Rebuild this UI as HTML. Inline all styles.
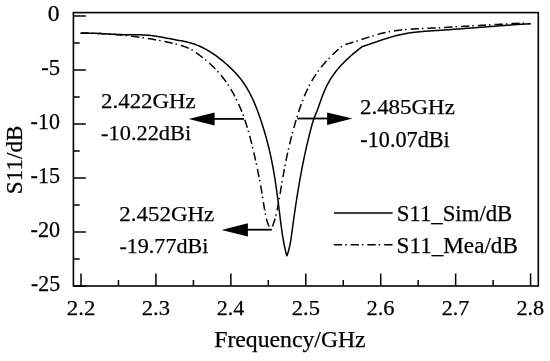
<!DOCTYPE html>
<html><head><meta charset="utf-8"><style>
html,body{margin:0;padding:0;background:#fff;}
svg{display:block;}
text{font-family:"Liberation Serif","DejaVu Serif",serif;fill:#000;stroke:#000;stroke-width:0.25px;}
</style></head><body>
<svg width="550" height="361" viewBox="0 0 550 361">
<rect x="73.4" y="12.6" width="464.90" height="273.40" fill="none" stroke="#000" stroke-width="1.6"/>
<path d="M73.4,16.00H85.80000000000001 M73.4,70.00H85.80000000000001 M73.4,124.00H85.80000000000001 M73.4,178.00H85.80000000000001 M73.4,232.00H85.80000000000001 M73.4,286.00H85.80000000000001 M73.4,43.00H79.7 M73.4,97.00H79.7 M73.4,151.00H79.7 M73.4,205.00H79.7 M73.4,259.00H79.7 M81.00,286.0V273.5 M155.93,286.0V273.5 M230.86,286.0V273.5 M305.79,286.0V273.5 M380.72,286.0V273.5 M455.65,286.0V273.5 M530.58,286.0V273.5 M118.47,286.0V280.0 M193.40,286.0V280.0 M268.33,286.0V280.0 M343.25,286.0V280.0 M418.19,286.0V280.0 M493.12,286.0V280.0" stroke="#000" stroke-width="1.5" fill="none"/>
<text x="47.80" y="21.00" font-size="22.50" textLength="11.76" lengthAdjust="spacingAndGlyphs">0</text>
<text x="41.15" y="75.00" font-size="22.50" textLength="18.89" lengthAdjust="spacingAndGlyphs">-5</text>
<text x="30.62" y="129.00" font-size="22.50" textLength="29.27" lengthAdjust="spacingAndGlyphs">-10</text>
<text x="30.62" y="183.00" font-size="22.50" textLength="29.44" lengthAdjust="spacingAndGlyphs">-15</text>
<text x="30.50" y="237.00" font-size="22.50" textLength="29.55" lengthAdjust="spacingAndGlyphs">-20</text>
<text x="31.01" y="291.00" font-size="22.50" textLength="29.05" lengthAdjust="spacingAndGlyphs">-25</text>
<text x="66.81" y="314.80" font-size="22.00" textLength="28.57" lengthAdjust="spacingAndGlyphs">2.2</text>
<text x="141.69" y="314.80" font-size="22.00" textLength="28.26" lengthAdjust="spacingAndGlyphs">2.3</text>
<text x="216.69" y="314.80" font-size="22.00" textLength="27.56" lengthAdjust="spacingAndGlyphs">2.4</text>
<text x="291.84" y="314.80" font-size="22.00" textLength="28.11" lengthAdjust="spacingAndGlyphs">2.5</text>
<text x="366.53" y="314.80" font-size="22.00" textLength="28.05" lengthAdjust="spacingAndGlyphs">2.6</text>
<text x="441.76" y="314.80" font-size="22.00" textLength="27.53" lengthAdjust="spacingAndGlyphs">2.7</text>
<text x="516.41" y="314.80" font-size="22.00" textLength="27.83" lengthAdjust="spacingAndGlyphs">2.8</text>
<text x="214.22" y="347.30" font-size="23.00" textLength="151.44" lengthAdjust="spacingAndGlyphs">Frequency/GHz</text>
<text x="101.03" y="108.20" font-size="22.00" textLength="94.74" lengthAdjust="spacingAndGlyphs">2.422GHz</text>
<text x="101.09" y="140.00" font-size="22.00" textLength="90.07" lengthAdjust="spacingAndGlyphs">-10.22dBi</text>
<text x="359.95" y="114.10" font-size="22.00" textLength="94.89" lengthAdjust="spacingAndGlyphs">2.485GHz</text>
<text x="360.37" y="147.10" font-size="22.60" textLength="89.38" lengthAdjust="spacingAndGlyphs">-10.07dBi</text>
<text x="119.23" y="221.30" font-size="22.00" textLength="95.05" lengthAdjust="spacingAndGlyphs">2.452GHz</text>
<text x="119.41" y="253.40" font-size="22.00" textLength="88.94" lengthAdjust="spacingAndGlyphs">-19.77dBi</text>
<text x="396.71" y="220.60" font-size="22.50" textLength="115.57" lengthAdjust="spacingAndGlyphs">S11_Sim/dB</text>
<text x="396.63" y="253.10" font-size="22.50" textLength="121.19" lengthAdjust="spacingAndGlyphs">S11_Mea/dB</text>
<text transform="translate(22.20,194.17) rotate(-90)" x="0" y="0" font-size="22.50" textLength="68.56" lengthAdjust="spacingAndGlyphs">S11/dB</text>

<path d="M80.60,33.20 L81.81,33.14 L83.01,33.12 L84.22,33.11 L85.43,33.10 L86.63,33.10 L87.84,33.11 L89.04,33.13 L90.25,33.15 L91.45,33.18 L92.65,33.21 L93.86,33.25 L95.06,33.29 L96.27,33.34 L97.47,33.39 L98.67,33.45 L99.87,33.51 L101.08,33.57 L102.28,33.63 L103.48,33.70 L104.69,33.76 L105.89,33.83 L107.09,33.90 L108.29,33.97 L109.50,34.04 L110.70,34.11 L111.90,34.17 L113.11,34.24 L114.31,34.30 L115.51,34.36 L116.72,34.42 L117.92,34.48 L119.13,34.53 L120.33,34.58 L121.53,34.62 L122.74,34.66 L123.95,34.70 L125.15,34.72 L126.36,34.75 L127.56,34.76 L128.77,34.77 L129.98,34.78 L131.18,34.78 L132.39,34.78 L133.60,34.78 L134.80,34.78 L136.01,34.79 L137.22,34.79 L138.42,34.80 L139.62,34.82 L140.83,34.85 L142.03,34.88 L143.23,34.93 L144.42,34.98 L145.62,35.05 L146.81,35.13 L148.01,35.23 L149.20,35.34 L150.39,35.47 L151.58,35.60 L152.76,35.75 L153.95,35.91 L155.13,36.08 L156.32,36.26 L157.50,36.45 L158.69,36.64 L159.87,36.84 L161.05,37.05 L162.24,37.27 L163.42,37.48 L164.60,37.71 L165.79,37.93 L166.98,38.16 L168.16,38.39 L169.35,38.61 L170.54,38.84 L171.73,39.07 L172.93,39.30 L174.12,39.52 L175.32,39.74 L176.52,39.96 L177.72,40.18 L178.92,40.40 L180.12,40.62 L181.31,40.85 L182.51,41.08 L183.70,41.32 L184.89,41.57 L186.08,41.83 L187.25,42.10 L188.43,42.39 L189.60,42.69 L190.76,43.01 L191.91,43.35 L193.05,43.70 L194.19,44.08 L195.32,44.48 L196.44,44.89 L197.55,45.33 L198.65,45.78 L199.74,46.26 L200.83,46.75 L201.91,47.25 L202.98,47.78 L204.04,48.32 L205.09,48.88 L206.14,49.45 L207.18,50.04 L208.21,50.64 L209.24,51.26 L210.26,51.89 L211.27,52.53 L212.27,53.19 L213.27,53.86 L214.26,54.54 L215.25,55.23 L216.23,55.94 L217.20,56.65 L218.16,57.38 L219.12,58.11 L220.08,58.86 L221.03,59.61 L221.97,60.37 L222.91,61.14 L223.84,61.92 L224.76,62.71 L225.68,63.50 L226.60,64.30 L227.51,65.11 L228.41,65.92 L229.30,66.75 L230.19,67.58 L231.06,68.42 L231.93,69.26 L232.79,70.12 L233.64,70.98 L234.48,71.85 L235.31,72.73 L236.13,73.62 L236.94,74.51 L237.73,75.42 L238.52,76.33 L239.29,77.26 L240.05,78.19 L240.79,79.13 L241.52,80.08 L242.24,81.04 L242.94,82.01 L243.63,82.99 L244.30,83.98 L244.97,84.97 L245.61,85.98 L246.25,86.99 L246.87,88.01 L247.48,89.04 L248.08,90.07 L248.66,91.12 L249.24,92.17 L249.80,93.23 L250.35,94.29 L250.89,95.36 L251.42,96.43 L251.94,97.52 L252.46,98.60 L252.96,99.69 L253.45,100.79 L253.94,101.89 L254.41,103.00 L254.88,104.11 L255.34,105.23 L255.80,106.34 L256.24,107.47 L256.68,108.59 L257.11,109.72 L257.54,110.85 L257.96,111.99 L258.37,113.12 L258.78,114.26 L259.19,115.40 L259.59,116.55 L259.98,117.69 L260.37,118.83 L260.76,119.98 L261.14,121.13 L261.52,122.27 L261.89,123.42 L262.27,124.57 L262.63,125.73 L262.99,126.88 L263.35,128.03 L263.70,129.19 L264.05,130.34 L264.40,131.50 L264.74,132.66 L265.08,133.81 L265.41,134.97 L265.74,136.13 L266.07,137.30 L266.39,138.46 L266.70,139.62 L267.01,140.79 L267.32,141.95 L267.63,143.12 L267.93,144.28 L268.22,145.45 L268.51,146.62 L268.80,147.79 L269.08,148.96 L269.36,150.13 L269.64,151.30 L269.91,152.48 L270.17,153.65 L270.44,154.83 L270.69,156.00 L270.95,157.18 L271.20,158.36 L271.44,159.53 L271.68,160.71 L271.92,161.89 L272.15,163.07 L272.38,164.25 L272.61,165.44 L272.83,166.62 L273.05,167.80 L273.26,168.99 L273.47,170.17 L273.68,171.36 L273.89,172.54 L274.09,173.73 L274.29,174.92 L274.48,176.10 L274.67,177.29 L274.86,178.48 L275.05,179.67 L275.23,180.86 L275.42,182.05 L275.59,183.24 L275.77,184.43 L275.95,185.62 L276.12,186.81 L276.29,188.01 L276.46,189.20 L276.63,190.39 L276.79,191.59 L276.95,192.78 L277.12,193.97 L277.28,195.17 L277.43,196.36 L277.59,197.56 L277.75,198.75 L277.90,199.95 L278.06,201.14 L278.21,202.34 L278.36,203.54 L278.51,204.73 L278.67,205.93 L278.82,207.12 L278.97,208.32 L279.12,209.52 L279.26,210.71 L279.41,211.91 L279.56,213.11 L279.71,214.31 L279.86,215.50 L280.01,216.70 L280.16,217.90 L280.31,219.09 L280.46,220.29 L280.61,221.49 L280.76,222.68 L280.92,223.88 L281.07,225.08 L281.23,226.27 L281.39,227.47 L281.55,228.66 L281.72,229.86 L281.89,231.05 L282.06,232.24 L282.24,233.43 L282.42,234.62 L282.61,235.81 L282.80,237.00 L283.00,238.19 L283.20,239.38 L283.41,240.56 L283.62,241.75 L283.84,242.93 L284.07,244.11 L284.30,245.29 L284.54,246.47 L284.79,247.65 L285.05,248.82 L285.31,250.00 L285.59,251.17 L285.87,252.34 L286.16,253.51 L286.46,254.67 L286.90,255.80 L287.35,254.67 L287.73,253.52 L288.09,252.37 L288.43,251.21 L288.75,250.05 L289.05,248.88 L289.33,247.70 L289.60,246.52 L289.85,245.34 L290.08,244.16 L290.31,242.97 L290.52,241.78 L290.72,240.58 L290.91,239.39 L291.10,238.19 L291.27,236.99 L291.44,235.79 L291.61,234.59 L291.77,233.39 L291.94,232.19 L292.10,230.99 L292.26,229.78 L292.42,228.58 L292.58,227.38 L292.75,226.18 L292.91,224.98 L293.08,223.78 L293.24,222.59 L293.41,221.39 L293.57,220.19 L293.74,218.99 L293.91,217.79 L294.08,216.60 L294.25,215.40 L294.42,214.20 L294.59,213.01 L294.76,211.81 L294.93,210.61 L295.11,209.42 L295.28,208.22 L295.46,207.03 L295.64,205.83 L295.82,204.64 L296.00,203.45 L296.18,202.25 L296.36,201.06 L296.54,199.86 L296.73,198.67 L296.92,197.48 L297.10,196.28 L297.29,195.09 L297.48,193.90 L297.68,192.70 L297.87,191.51 L298.07,190.32 L298.26,189.13 L298.46,187.93 L298.66,186.74 L298.87,185.55 L299.07,184.36 L299.28,183.17 L299.48,181.97 L299.69,180.78 L299.91,179.59 L300.12,178.40 L300.33,177.21 L300.55,176.02 L300.77,174.82 L300.99,173.63 L301.21,172.44 L301.44,171.25 L301.66,170.06 L301.89,168.88 L302.12,167.69 L302.35,166.50 L302.59,165.31 L302.83,164.12 L303.06,162.93 L303.30,161.75 L303.55,160.56 L303.79,159.37 L304.04,158.19 L304.29,157.00 L304.54,155.82 L304.79,154.64 L305.05,153.45 L305.30,152.27 L305.56,151.09 L305.83,149.91 L306.09,148.72 L306.36,147.54 L306.63,146.36 L306.90,145.18 L307.17,144.01 L307.45,142.83 L307.72,141.65 L308.01,140.48 L308.29,139.30 L308.57,138.13 L308.86,136.95 L309.15,135.78 L309.44,134.61 L309.74,133.43 L310.04,132.26 L310.34,131.09 L310.64,129.93 L310.94,128.76 L311.25,127.59 L311.56,126.43 L311.88,125.26 L312.20,124.10 L312.53,122.94 L312.87,121.79 L313.23,120.64 L313.62,119.50 L314.02,118.37 L314.45,117.24 L314.90,116.13 L315.36,115.01 L315.82,113.90 L316.28,112.79 L316.74,111.67 L317.18,110.55 L317.61,109.42 L318.03,108.28 L318.44,107.14 L318.84,106.00 L319.24,104.86 L319.63,103.71 L320.03,102.57 L320.42,101.42 L320.82,100.28 L321.23,99.14 L321.64,98.00 L322.07,96.86 L322.50,95.73 L322.94,94.61 L323.39,93.49 L323.85,92.37 L324.32,91.26 L324.81,90.15 L325.30,89.05 L325.80,87.96 L326.32,86.87 L326.85,85.79 L327.40,84.71 L327.95,83.65 L328.52,82.59 L329.11,81.54 L329.71,80.49 L330.33,79.46 L330.96,78.43 L331.61,77.42 L332.27,76.41 L332.95,75.42 L333.65,74.43 L334.36,73.45 L335.08,72.48 L335.82,71.52 L336.57,70.57 L337.34,69.63 L338.11,68.70 L338.90,67.77 L339.70,66.86 L340.52,65.95 L341.34,65.06 L342.17,64.17 L343.01,63.29 L343.87,62.42 L344.73,61.55 L345.60,60.70 L346.47,59.85 L347.36,59.01 L348.25,58.18 L349.15,57.36 L350.05,56.55 L350.96,55.74 L351.87,54.94 L352.79,54.16 L353.71,53.37 L354.64,52.60 L355.57,51.83 L356.50,51.07 L357.43,50.32 L358.37,49.58 L359.30,48.84 L360.24,48.11 L361.18,47.39 L362.10,46.60 L363.28,46.31 L364.42,45.93 L365.57,45.54 L366.71,45.15 L367.85,44.76 L369.00,44.37 L370.14,43.97 L371.29,43.57 L372.43,43.18 L373.58,42.78 L374.73,42.38 L375.88,41.98 L377.03,41.59 L378.18,41.19 L379.33,40.80 L380.48,40.41 L381.64,40.03 L382.79,39.65 L383.95,39.27 L385.11,38.90 L386.27,38.53 L387.43,38.17 L388.59,37.81 L389.75,37.46 L390.92,37.12 L392.08,36.78 L393.25,36.45 L394.42,36.13 L395.59,35.82 L396.77,35.52 L397.94,35.23 L399.12,34.95 L400.30,34.68 L401.48,34.42 L402.66,34.17 L403.85,33.94 L405.03,33.71 L406.22,33.50 L407.41,33.30 L408.61,33.11 L409.80,32.92 L411.00,32.75 L412.19,32.59 L413.39,32.43 L414.59,32.28 L415.79,32.14 L417.00,32.01 L418.20,31.88 L419.40,31.76 L420.61,31.65 L421.82,31.54 L423.02,31.44 L424.23,31.34 L425.44,31.25 L426.65,31.16 L427.86,31.07 L429.07,30.99 L430.28,30.91 L431.49,30.83 L432.70,30.75 L433.91,30.67 L435.12,30.60 L436.33,30.52 L437.54,30.45 L438.75,30.38 L439.96,30.30 L441.17,30.22 L442.38,30.14 L443.59,30.06 L444.80,29.98 L446.01,29.90 L447.22,29.81 L448.42,29.73 L449.63,29.64 L450.84,29.55 L452.04,29.46 L453.25,29.37 L454.46,29.28 L455.66,29.19 L456.87,29.10 L458.07,29.01 L459.28,28.91 L460.49,28.82 L461.69,28.73 L462.90,28.64 L464.11,28.54 L465.31,28.45 L466.52,28.36 L467.73,28.27 L468.93,28.18 L470.14,28.09 L471.35,27.99 L472.56,27.90 L473.76,27.81 L474.97,27.72 L476.18,27.63 L477.39,27.54 L478.60,27.45 L479.80,27.35 L481.01,27.26 L482.22,27.17 L483.43,27.08 L484.64,26.99 L485.85,26.89 L487.06,26.80 L488.27,26.71 L489.47,26.61 L490.68,26.52 L491.89,26.42 L493.10,26.33 L494.31,26.24 L495.52,26.14 L496.73,26.05 L497.94,25.95 L499.15,25.86 L500.36,25.77 L501.57,25.68 L502.78,25.58 L503.99,25.49 L505.20,25.40 L506.41,25.31 L507.62,25.22 L508.83,25.13 L510.04,25.04 L511.25,24.95 L512.46,24.87 L513.66,24.78 L514.87,24.70 L516.08,24.61 L517.29,24.53 L518.50,24.45 L519.71,24.37 L520.92,24.29 L522.13,24.21 L523.34,24.14 L524.55,24.06 L525.76,23.99 L526.97,23.92 L528.18,23.85 L529.38,23.78 L530.60,23.80" stroke="#000" stroke-width="1.5" fill="none" stroke-linejoin="round"/>
<path d="M80.60,33.20 L81.81,33.16 L83.02,33.15 L84.22,33.15 L85.43,33.16 L86.63,33.16 L87.84,33.18 L89.05,33.19 L90.26,33.21 L91.46,33.24 L92.67,33.27 L93.88,33.30 L95.08,33.34 L96.29,33.38 L97.50,33.42 L98.70,33.47 L99.91,33.52 L101.12,33.58 L102.32,33.64 L103.53,33.70 L104.74,33.77 L105.94,33.84 L107.15,33.92 L108.35,33.99 L109.56,34.08 L110.77,34.16 L111.97,34.25 L113.18,34.34 L114.38,34.44 L115.58,34.54 L116.79,34.64 L117.99,34.75 L119.20,34.86 L120.40,34.97 L121.60,35.09 L122.80,35.21 L124.01,35.33 L125.21,35.46 L126.41,35.59 L127.61,35.72 L128.81,35.86 L130.01,36.00 L131.21,36.14 L132.41,36.28 L133.61,36.43 L134.80,36.58 L136.00,36.74 L137.20,36.89 L138.39,37.05 L139.59,37.22 L140.78,37.38 L141.98,37.55 L143.17,37.72 L144.36,37.90 L145.56,38.08 L146.75,38.26 L147.94,38.45 L149.13,38.64 L150.32,38.83 L151.51,39.03 L152.70,39.23 L153.89,39.44 L155.08,39.65 L156.27,39.86 L157.45,40.08 L158.64,40.30 L159.83,40.53 L161.01,40.76 L162.20,41.00 L163.38,41.23 L164.57,41.48 L165.75,41.73 L166.94,41.98 L168.12,42.24 L169.30,42.50 L170.48,42.77 L171.66,43.04 L172.85,43.32 L174.03,43.60 L175.21,43.89 L176.38,44.19 L177.56,44.49 L178.73,44.80 L179.90,45.13 L181.06,45.47 L182.21,45.82 L183.36,46.20 L184.50,46.59 L185.62,47.00 L186.73,47.44 L187.84,47.90 L188.92,48.39 L189.99,48.91 L191.05,49.45 L192.09,50.03 L193.11,50.64 L194.11,51.28 L195.10,51.94 L196.08,52.63 L197.05,53.34 L198.02,54.05 L198.98,54.78 L199.94,55.51 L200.90,56.25 L201.86,56.99 L202.81,57.73 L203.77,58.47 L204.72,59.23 L205.66,59.99 L206.59,60.76 L207.52,61.54 L208.43,62.34 L209.34,63.14 L210.24,63.95 L211.13,64.78 L212.02,65.61 L212.89,66.45 L213.75,67.30 L214.60,68.16 L215.45,69.03 L216.28,69.91 L217.11,70.80 L217.92,71.69 L218.73,72.60 L219.52,73.51 L220.31,74.43 L221.08,75.36 L221.85,76.29 L222.60,77.23 L223.34,78.19 L224.07,79.14 L224.80,80.11 L225.51,81.08 L226.20,82.06 L226.89,83.04 L227.57,84.04 L228.24,85.03 L228.89,86.04 L229.54,87.05 L230.17,88.07 L230.80,89.09 L231.41,90.12 L232.02,91.15 L232.61,92.19 L233.20,93.24 L233.78,94.29 L234.34,95.35 L234.90,96.41 L235.45,97.47 L235.99,98.55 L236.52,99.62 L237.05,100.70 L237.56,101.79 L238.07,102.88 L238.56,103.98 L239.05,105.08 L239.53,106.18 L240.01,107.29 L240.47,108.40 L240.93,109.51 L241.38,110.63 L241.83,111.76 L242.26,112.88 L242.69,114.01 L243.11,115.15 L243.53,116.28 L243.94,117.42 L244.34,118.57 L244.74,119.71 L245.13,120.86 L245.51,122.01 L245.89,123.16 L246.26,124.32 L246.63,125.48 L246.99,126.64 L247.34,127.80 L247.69,128.96 L248.04,130.13 L248.38,131.30 L248.71,132.47 L249.04,133.64 L249.37,134.81 L249.69,135.99 L250.01,137.16 L250.32,138.34 L250.63,139.51 L250.93,140.69 L251.24,141.87 L251.53,143.05 L251.83,144.23 L252.12,145.41 L252.40,146.59 L252.69,147.77 L252.97,148.95 L253.25,150.13 L253.52,151.32 L253.79,152.50 L254.06,153.68 L254.33,154.86 L254.60,156.03 L254.86,157.21 L255.12,158.39 L255.38,159.57 L255.64,160.74 L255.90,161.92 L256.15,163.09 L256.40,164.27 L256.66,165.44 L256.90,166.61 L257.15,167.78 L257.40,168.95 L257.64,170.13 L257.88,171.30 L258.12,172.47 L258.36,173.64 L258.59,174.82 L258.83,175.99 L259.06,177.16 L259.29,178.34 L259.51,179.51 L259.74,180.69 L259.96,181.87 L260.18,183.05 L260.40,184.23 L260.61,185.41 L260.83,186.59 L261.04,187.78 L261.25,188.96 L261.45,190.15 L261.66,191.34 L261.86,192.53 L262.05,193.73 L262.25,194.92 L262.44,196.12 L262.63,197.32 L262.82,198.53 L263.01,199.73 L263.20,200.94 L263.38,202.15 L263.57,203.35 L263.76,204.56 L263.96,205.77 L264.15,206.97 L264.36,208.17 L264.56,209.38 L264.77,210.57 L264.99,211.77 L265.22,212.96 L265.45,214.15 L265.69,215.33 L265.94,216.51 L266.20,217.68 L266.47,218.85 L266.76,220.01 L267.07,221.15 L267.42,222.28 L267.81,223.39 L268.25,224.48 L268.75,225.54 L269.31,226.56 L269.96,227.55 L270.90,228.40" stroke="#000" stroke-width="1.5" fill="none" stroke-dasharray="8.347 3.017 1.508 4.023" stroke-dashoffset="0.02" stroke-linejoin="round"/>
<path d="M270.90,228.40 L271.86,227.56 L272.33,226.47 L272.78,225.37 L273.20,224.26 L273.60,223.14 L273.99,222.02 L274.36,220.88 L274.71,219.74 L275.04,218.60 L275.36,217.44 L275.66,216.28 L275.96,215.12 L276.24,213.95 L276.51,212.77 L276.77,211.59 L277.02,210.41 L277.27,209.23 L277.51,208.04 L277.74,206.85 L277.98,205.66 L278.20,204.47 L278.43,203.28 L278.65,202.09 L278.86,200.89 L279.08,199.70 L279.29,198.50 L279.50,197.30 L279.71,196.11 L279.91,194.91 L280.12,193.71 L280.32,192.51 L280.52,191.31 L280.72,190.11 L280.92,188.91 L281.12,187.71 L281.32,186.51 L281.52,185.30 L281.72,184.10 L281.92,182.90 L282.12,181.70 L282.33,180.50 L282.53,179.31 L282.74,178.11 L282.94,176.91 L283.15,175.71 L283.36,174.52 L283.58,173.32 L283.80,172.13 L284.01,170.93 L284.24,169.74 L284.46,168.55 L284.69,167.36 L284.91,166.17 L285.14,164.98 L285.38,163.79 L285.61,162.60 L285.85,161.41 L286.09,160.23 L286.34,159.04 L286.58,157.86 L286.83,156.67 L287.08,155.49 L287.34,154.30 L287.60,153.12 L287.86,151.94 L288.12,150.76 L288.38,149.58 L288.65,148.40 L288.92,147.22 L289.20,146.04 L289.47,144.86 L289.75,143.69 L290.04,142.51 L290.32,141.34 L290.61,140.16 L290.90,138.99 L291.20,137.81 L291.50,136.64 L291.80,135.47 L292.10,134.29 L292.41,133.12 L292.72,131.95 L293.04,130.78 L293.36,129.61 L293.68,128.44 L294.00,127.28 L294.33,126.11 L294.66,124.94 L295.00,123.77 L295.33,122.61 L295.68,121.44 L296.02,120.28 L296.37,119.11 L296.72,117.95 L297.08,116.78 L297.44,115.62 L297.81,114.46 L298.17,113.30 L298.55,112.14 L298.93,110.98 L299.31,109.83 L299.70,108.67 L300.09,107.52 L300.49,106.37 L300.90,105.22 L301.31,104.08 L301.73,102.94 L302.16,101.80 L302.59,100.66 L303.03,99.53 L303.48,98.40 L303.93,97.27 L304.39,96.15 L304.86,95.03 L305.34,93.92 L305.83,92.81 L306.32,91.71 L306.83,90.61 L307.34,89.51 L307.86,88.42 L308.40,87.34 L308.94,86.26 L309.49,85.18 L310.05,84.11 L310.63,83.05 L311.21,82.00 L311.80,80.95 L312.41,79.90 L313.03,78.87 L313.65,77.84 L314.29,76.81 L314.95,75.80 L315.61,74.79 L316.29,73.79 L316.98,72.79 L317.68,71.81 L318.39,70.83 L319.11,69.86 L319.85,68.90 L320.59,67.94 L321.35,66.99 L322.11,66.05 L322.89,65.11 L323.67,64.19 L324.47,63.27 L325.27,62.35 L326.08,61.45 L326.90,60.55 L327.73,59.66 L328.57,58.77 L329.41,57.90 L330.26,57.02 L331.12,56.16 L331.98,55.30 L332.85,54.45 L333.73,53.61 L334.61,52.77 L335.49,51.94 L336.38,51.12 L337.28,50.30 L338.18,49.49 L339.08,48.69 L339.99,47.89 L340.90,47.10 L341.81,46.32 L342.70,45.50 L343.80,44.97 L344.96,44.65 L346.12,44.32 L347.28,43.98 L348.44,43.64 L349.59,43.30 L350.75,42.95 L351.91,42.59 L353.06,42.23 L354.22,41.87 L355.37,41.50 L356.53,41.13 L357.68,40.76 L358.84,40.38 L359.99,40.01 L361.15,39.63 L362.30,39.26 L363.45,38.88 L364.61,38.51 L365.77,38.13 L366.92,37.76 L368.08,37.39 L369.24,37.02 L370.39,36.65 L371.55,36.29 L372.71,35.93 L373.87,35.57 L375.04,35.22 L376.20,34.88 L377.37,34.54 L378.53,34.22 L379.70,33.90 L380.87,33.59 L382.04,33.29 L383.22,33.00 L384.39,32.72 L385.57,32.46 L386.75,32.21 L387.94,31.97 L389.12,31.74 L390.31,31.52 L391.50,31.31 L392.69,31.11 L393.88,30.92 L395.07,30.75 L396.27,30.58 L397.47,30.42 L398.67,30.26 L399.87,30.12 L401.07,29.98 L402.27,29.86 L403.48,29.73 L404.68,29.62 L405.89,29.51 L407.10,29.41 L408.30,29.31 L409.51,29.22 L410.72,29.13 L411.94,29.05 L413.15,28.97 L414.36,28.90 L415.57,28.83 L416.79,28.77 L418.00,28.70 L419.21,28.64 L420.43,28.58 L421.64,28.53 L422.86,28.47 L424.07,28.42 L425.29,28.36 L426.50,28.31 L427.72,28.26 L428.93,28.21 L430.15,28.15 L431.36,28.10 L432.57,28.04 L433.79,27.99 L435.00,27.93 L436.21,27.87 L437.42,27.81 L438.64,27.75 L439.85,27.69 L441.06,27.63 L442.27,27.57 L443.48,27.51 L444.69,27.44 L445.90,27.38 L447.11,27.31 L448.32,27.25 L449.53,27.18 L450.74,27.12 L451.95,27.05 L453.16,26.98 L454.37,26.91 L455.58,26.84 L456.79,26.77 L458.00,26.70 L459.21,26.64 L460.42,26.57 L461.62,26.50 L462.83,26.42 L464.04,26.35 L465.25,26.28 L466.46,26.21 L467.67,26.14 L468.88,26.07 L470.09,26.00 L471.30,25.93 L472.50,25.86 L473.71,25.79 L474.92,25.72 L476.13,25.65 L477.34,25.58 L478.55,25.51 L479.76,25.44 L480.97,25.37 L482.18,25.30 L483.39,25.23 L484.60,25.16 L485.81,25.10 L487.02,25.03 L488.24,24.96 L489.45,24.90 L490.66,24.83 L491.87,24.76 L493.08,24.70 L494.29,24.63 L495.51,24.57 L496.72,24.50 L497.93,24.44 L499.14,24.37 L500.35,24.30 L501.56,24.24 L502.77,24.17 L503.99,24.10 L505.20,24.03 L506.41,23.97 L507.62,23.90 L508.82,23.83 L510.03,23.76 L511.24,23.69 L512.45,23.62 L513.66,23.56 L514.87,23.50 L516.07,23.45 L517.28,23.40 L518.49,23.37 L519.70,23.34 L520.91,23.33 L522.12,23.33 L523.32,23.34 L524.54,23.37 L525.75,23.41 L526.96,23.48 L528.17,23.56 L529.38,23.67 L530.60,23.80" stroke="#000" stroke-width="1.5" fill="none" stroke-dasharray="8.300 3.000 1.500 4.000" stroke-dashoffset="-2.50" stroke-linejoin="round"/>
<path d="M214,118.9H244" stroke="#000" stroke-width="1.8"/>
<path d="M188.7,118.9L214.6,112.4L214.6,125.5Z" fill="#000"/>
<path d="M297.3,118.5H328" stroke="#000" stroke-width="1.8"/>
<path d="M352.5,118.5L327.1,112.4L327.1,125Z" fill="#000"/>
<path d="M247,229.7H271.8" stroke="#000" stroke-width="1.8"/>
<path d="M221.6,229.9L247.9,223.3L247.9,236.5Z" fill="#000"/>
<path d="M334,213H392.6" stroke="#000" stroke-width="1.5"/>
<path d="M333.8,244.8H392.6" stroke="#000" stroke-width="1.5" stroke-dasharray="8.3 3 1.5 4"/>
</svg>
</body></html>
